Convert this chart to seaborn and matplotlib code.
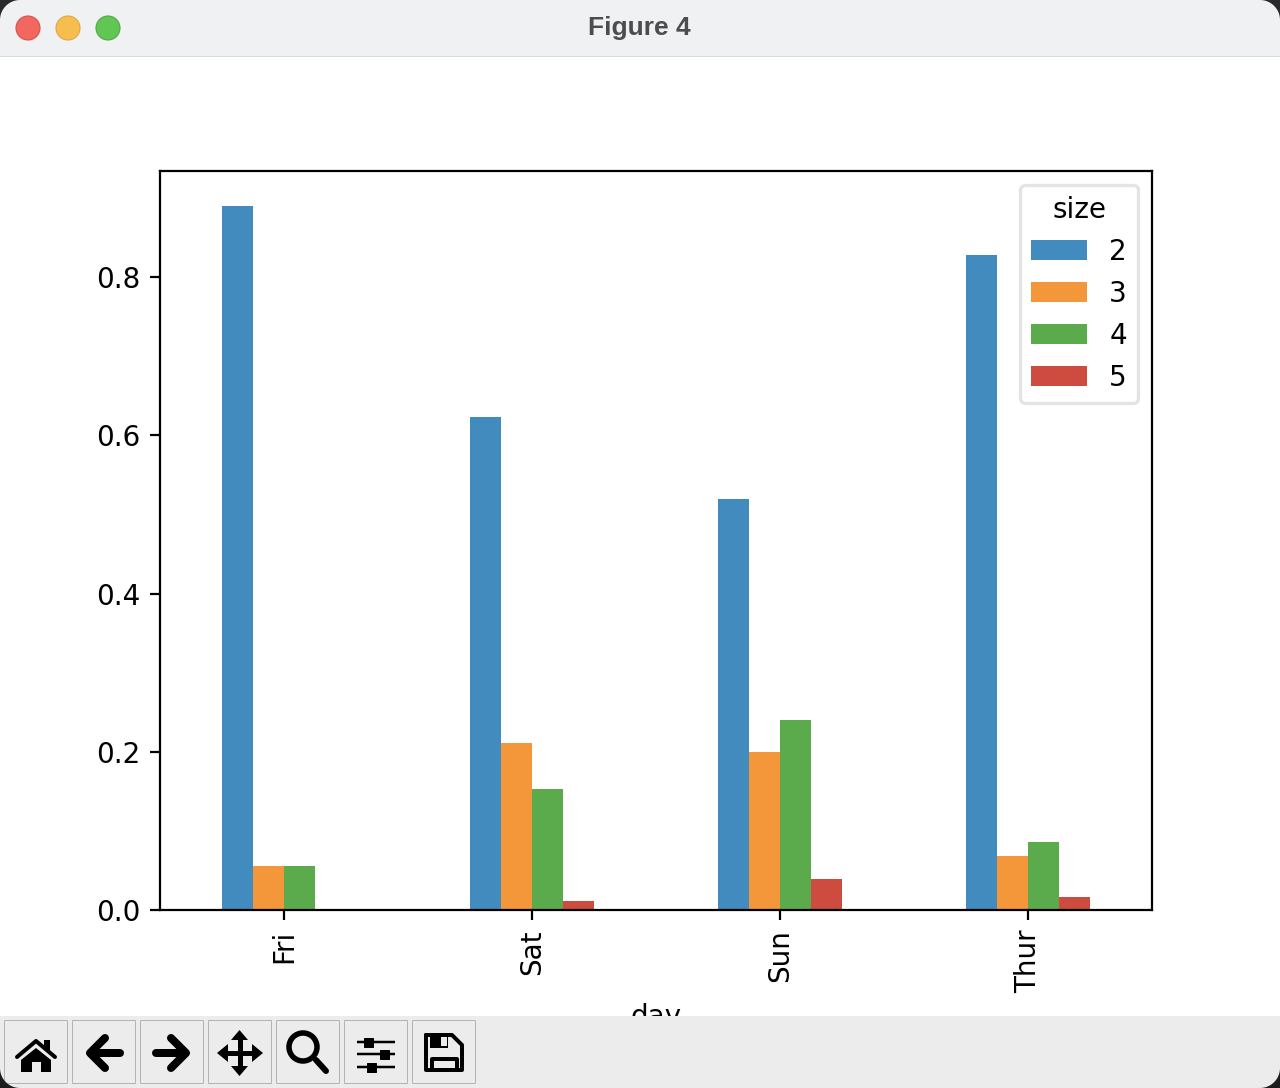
import matplotlib
matplotlib.use("Agg")
import matplotlib.pyplot as plt
from matplotlib.patches import Rectangle, Polygon, Circle
import numpy as np
import pandas as pd
import seaborn as sns

days = ["Fri", "Sat", "Sun", "Thur"]
sizes = ["2", "3", "4", "5"]
size_2 = [0.890, 0.623, 0.520, 0.828]
size_3 = [0.056, 0.211, 0.200, 0.068]
size_4 = [0.056, 0.153, 0.240, 0.086]
size_5 = [0.0, 0.012, 0.039, 0.017]
colors = ["#1f77b4", "#f38517", "#3e9c2e", "#c62c1d"]

W, H = 1280, 1088
df = pd.DataFrame({"day": days, "2": size_2, "3": size_3, "4": size_4, "5": size_5})
long = df.melt(id_vars="day", var_name="size", value_name="v")

sns.set_style("white")
plt.rcParams["font.family"] = ["DejaVu Sans"]
plt.rcParams["text.color"] = "black"
plt.rcParams["axes.labelcolor"] = "black"
plt.rcParams["xtick.color"] = "black"
plt.rcParams["ytick.color"] = "black"
fig = plt.figure(figsize=(W / 100, H / 100), dpi=100, facecolor="white")
ax = fig.add_axes([160 / W, 1 - 910 / H, 992 / W, 739 / H])
sns.barplot(data=long, x="day", y="v", hue="size", order=days, hue_order=sizes,
            palette=colors, width=0.5, gap=0, alpha=0.85, errorbar=None, ax=ax,
            saturation=1, linewidth=0)
ax.set_xlim(-0.5, 3.5)
ax.set_ylim(0, 739 / 791)
ax.set_yticks([0, 0.2, 0.4, 0.6, 0.8])
ax.set_ylabel("")
ax.set_xlabel("day", fontsize=20, labelpad=7)
ax.tick_params(axis="both", length=7, width=1.6, labelsize=20, left=True, bottom=True, pad=7, color="black")
ax.tick_params(axis="x", labelrotation=90)
for s in ax.spines.values():
    s.set_visible(True)
    s.set_linewidth(1.6)
    s.set_color("black")
leg = ax.legend(title="size", fontsize=20, title_fontsize=20, loc="upper right", frameon=True,
                handlelength=2, borderaxespad=0.5)
leg.get_frame().set_linewidth(2.4)
leg.get_frame().set_edgecolor("#dedede")
leg.get_frame().set_alpha(0.8)

# window chrome, drawn in an overlay whose units are pixels
ui = fig.add_axes([0, 0, 1, 1], facecolor="none", zorder=10)
ui.set_xlim(0, W)
ui.set_ylim(H, 0)
ui.axis("off")
PX = 0.72  # one pixel in points


def rect(x, y, w, h, fc, ec="none", lw=0):
    ui.add_patch(Rectangle((x, y), w, h, facecolor=fc, edgecolor=ec, linewidth=lw * PX))


def stroke(pts, lw, cap="round", join="round", color="black"):
    xs, ys = zip(*pts)
    ui.plot(xs, ys, color=color, lw=lw * PX, solid_capstyle=cap, solid_joinstyle=join)


def fill(pts, color="black"):
    ui.add_patch(Polygon(pts, closed=True, facecolor=color, edgecolor="none"))


# title bar
rect(0, 0, W, 56, "#f0f1f3")
rect(0, 56, W, 1, "#d9d9d9")
for cx, c, e in [(28, "#f2675f", "#d9534c"), (68, "#f7bd4f", "#dfa63f"), (108, "#62c655", "#52ab46")]:
    ui.add_patch(Circle((cx, 28), 12, facecolor=c, edgecolor=e, linewidth=0.8))
ui.text(639, 28.5, "Figure 4", ha="center", va="center", fontsize=19, fontweight="bold",
        color="#4d4d4d", family="Liberation Sans")

# toolbar with gradient buttons
rect(0, 1016, W, 72, "#ececec")
for bx in [4, 72, 140, 208, 276, 344, 412]:
    ui.imshow(np.linspace(0.90, 0.96, 32).reshape(-1, 1), cmap="gray", vmin=0, vmax=1,
              extent=(bx, bx + 64, 1084, 1020), aspect="auto", interpolation="bilinear")
    rect(bx - 0.5, 1019.5, 63, 63, "none", "#b4b4b4", 1)
ui.set_xlim(0, W)
ui.set_ylim(H, 0)

# home
stroke([(17, 1057), (36, 1041), (55, 1057)], 4)
fill([(44, 1040), (50, 1040), (50, 1054), (44, 1049)])
fill([(36, 1048), (51, 1060), (51, 1072), (41, 1072), (41, 1062), (32, 1062), (32, 1072), (21, 1072), (21, 1060)])
# back
stroke([(120, 1053), (91, 1053)], 8)
stroke([(105, 1038), (90, 1053), (105, 1068)], 8)
# forward
stroke([(156, 1053), (185, 1053)], 8)
stroke([(171, 1038), (186, 1053), (171, 1068)], 8)
# move
stroke([(239.5, 1036), (239.5, 1070)], 5, cap="butt")
stroke([(224, 1053), (256, 1053)], 5, cap="butt")
fill([(239.5, 1030), (231, 1040), (248, 1040)])
fill([(239.5, 1076), (231, 1066), (248, 1066)])
fill([(217, 1053), (228, 1044), (228, 1062)])
fill([(263, 1053), (252, 1044), (252, 1062)])
# zoom
ui.add_patch(Circle((303, 1047), 14, facecolor="none", edgecolor="black", linewidth=5.5 * PX))
stroke([(316, 1060), (326, 1071)], 6)
# sliders
for ly, kx in [(1042, 368), (1054, 384), (1067, 371)]:
    stroke([(357, ly), (395, ly)], 2.5, cap="butt")
    rect(kx - 4.5, ly - 4.5, 9, 9, "black", "black", 1)
# save
stroke([(426, 1035), (452, 1035), (462, 1045), (462, 1070), (426, 1070), (426, 1035)], 4)
rect(430, 1035, 18, 13, "black")
rect(441, 1037, 6, 9, "#ececec")
stroke([(432, 1070), (432, 1059), (457, 1059), (457, 1070)], 4, cap="butt")

# rounded window corners
R = 20
t = np.linspace(0, np.pi / 2, 16)
for ox, oy, sx, sy in [(0, 0, 1, 1), (W, 0, -1, 1), (0, H, 1, -1), (W, H, -1, -1)]:
    arc = [(ox + sx * (R - R * np.cos(a)), oy + sy * (R - R * np.sin(a))) for a in t]
    fill([(ox, oy)] + arc, "#1c1c1c" if oy else "#2a2a2a")

fig.savefig("out.png", dpi=100)
